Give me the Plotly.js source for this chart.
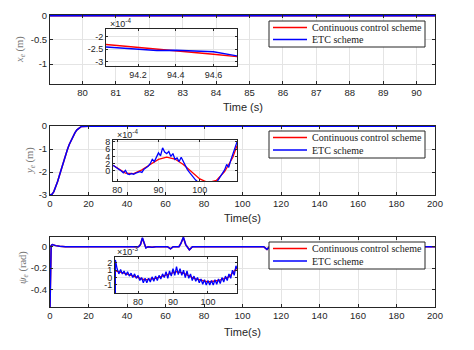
<!DOCTYPE html>
<html>
<head>
<meta charset="utf-8">
<script src="https://cdn.plot.ly/plotly-3.0.1.min.js"></script>
<style>html,body{margin:0;padding:0;background:#fff;}#chart{width:474px;height:350px;}</style>
</head>
<body>
<div id="chart"></div>
<script>
// ---------------- DATA ----------------
// Panel 1: x_e (m), main view
const tX = [79, 80, 82, 84, 86, 88, 90, 91];
const xContinuous = [-0.00021, -0.00022, -0.00023, -0.00024, -0.00025, -0.00026, -0.00026, -0.00027];
const xETC        = [-0.00022, -0.00023, -0.00024, -0.00025, -0.00025, -0.00026, -0.00027, -0.00027];
// Panel 1 inset (units of 1e-4 m)
const tXin = [94.03, 94.2, 94.3, 94.4, 94.5, 94.6, 94.725];
const xContIn = [-2.31, -2.42, -2.49, -2.56, -2.63, -2.70, -2.80];
const xETCIn  = [-2.41, -2.50, -2.55, -2.54, -2.56, -2.60, -2.77];

// Panel 2: y_e (m), main view
const tY = [0, 1, 2, 3, 4, 5, 6, 7, 8, 9, 10, 11, 12, 13, 14, 15, 16, 17, 18, 20, 30, 40, 50, 60, 66, 70, 72, 76, 80, 90, 100, 110, 120, 126, 128, 130, 140, 160, 180, 200];
const yContinuous = [-3, -2.97, -2.85, -2.65, -2.4, -2.12, -1.83, -1.55, -1.28, -1.03, -0.8, -0.6, -0.42, -0.28, -0.16, -0.08, -0.03, -0.01, 0, 0, 0, 0, 0, 0, 0, 0.01, 0, 0, 0, 0, 0, 0, 0, 0, 0.01, 0, 0, 0, 0, 0];
const yETC        = [-3, -2.97, -2.85, -2.65, -2.4, -2.12, -1.83, -1.55, -1.28, -1.03, -0.8, -0.6, -0.42, -0.28, -0.16, -0.08, -0.03, -0.01, 0, 0, 0, 0, 0, 0, 0, 0.02, 0, 0, 0, 0, 0, 0, 0, 0, 0.015, 0, 0, 0, 0, 0];
// Panel 2 inset (units of 1e-4 m)
const tYinC = [79, 80, 82, 84, 86, 88, 90, 92, 94, 96, 98, 100, 102, 104, 106, 107, 108, 109];
const yContIn = [1.6, 0.8, -0.6, -0.7, 0.3, 1.8, 3.2, 3.8, 3.3, 1.8, -0.3, -2.2, -3.2, -2.6, -0.2, 1.8, 3.8, 7.0];
const tYinE = [79, 79.5, 80, 80.5, 81, 81.5, 82, 82.5, 83, 83.5, 84, 84.5, 85, 85.5, 86, 86.5, 87, 87.5, 88, 88.5, 89, 89.5, 90, 90.5, 91, 91.5, 92, 92.5, 93, 93.5, 94, 94.5, 95, 95.5, 96, 96.5, 97, 97.5, 98, 98.5, 99, 99.5, 100, 102, 104, 104.5, 105, 105.5, 106, 106.5, 107, 107.5, 108, 108.5, 109];
const yETCIn = [1.6, 1.2, 0.8, 0.6, 0.0, -0.5, 0.2, -0.8, -1.0, -0.7, -0.9, -0.6, -0.5, -0.2, -0.4, 0.5, 0.9, 1.3, 2.0, 3.2, 2.6, 3.6, 5.0, 4.2, 6.4, 5.2, 4.8, 5.4, 4.0, 4.8, 3.2, 3.6, 2.6, 3.8, 2.5, 1.2, 0.4, -0.4, -1.2, -1.9, -2.5, -3.0, -3.3, -3.4, -3.2, -2.4, -1.5, -0.6, 0.3, 1.8, 1.0, 3.0, 4.6, 6.0, 8.0];

// Panel 3: psi_e (rad), main view
const tPsi = [0, 0.6, 1.2, 2, 3, 5, 8, 46, 47, 48, 49, 49.8, 51, 53, 55, 61, 62.6, 64, 67, 68, 69.3, 70.5, 72.4, 74, 111, 112.7, 114, 127, 128, 129, 200];
const psiContinuous = [-0.566, 0.01, 0.02, 0.015, 0.01, 0.004, 0, 0, 0.02, 0.08, 0.03, -0.01, 0, -0.005, 0, 0, -0.02, 0, 0, 0.03, 0.085, 0.02, -0.03, 0, 0, -0.025, 0, 0, 0.005, 0, 0];
const psiETC        = [-0.566, 0.01, 0.02, 0.015, 0.01, 0.004, 0, 0, 0.02, 0.085, 0.03, -0.012, 0, -0.005, 0, 0, -0.02, 0, 0, 0.03, 0.09, 0.02, -0.03, 0, 0, -0.025, 0, 0, 0.005, 0, 0];
// Panel 3 inset (units of 1e-3 rad)
const tPsiInC = [73.5, 76, 80, 82, 85, 88, 91, 93, 96, 100, 103, 106, 108.3];
const psiContIn = [0.9, 0.6, 0.0, -0.3, -0.1, 0.4, 0.8, 0.6, -0.1, -0.6, -0.4, 0.1, 1.3];
const tPsiInE = [73.5, 73.5, 74, 74.5, 75, 75.5, 76, 76.5, 77, 77.5, 78, 78.5, 79, 79.5, 80, 80.5, 81, 81.5, 82, 82.5, 83, 83.5, 84, 84.5, 85, 85.5, 86, 86.5, 87, 87.5, 88, 88.5, 89, 89.5, 90, 90.5, 91, 91.5, 92, 92.5, 93, 93.5, 94, 94.5, 95, 95.5, 96, 96.5, 97, 97.5, 98, 98.5, 99, 99.5, 100, 100.5, 101, 101.5, 102, 102.5, 103, 103.5, 104, 104.5, 105, 105.5, 106, 106.5, 107, 107.5, 108, 108.3];
const psiETCIn = [-2.5, 2.4, 1.2, 0.5, 1.1, 0.5, 0.9, 0.3, 0.8, 0.2, 0.6, 0.0, 0.5, -0.1, 0.3, -0.4, 0.0, -0.7, -0.1, -0.7, -0.1, -0.6, 0.1, -0.5, 0.2, -0.4, 0.3, -0.2, 0.5, 0.0, 0.8, -0.1, 0.9, 0.2, 1.2, 0.3, 1.5, 0.4, 1.2, 0.3, 1.0, 0.0, 0.9, -0.1, 0.5, -0.4, 0.2, -0.5, 0.0, -0.7, -0.2, -0.9, -0.3, -1.0, -0.4, -1.0, -0.4, -1.0, -0.3, -0.9, -0.2, -0.8, 0.0, -0.6, 0.2, -0.4, 0.5, -0.1, 1.0, 0.3, 1.6, 1.2];

// Tick values / labels
const x1Ticks = [80, 81, 82, 83, 84, 85, 86, 87, 88, 89, 90];
const x1Labels = ["80", "81", "82", "83", "84", "85", "86", "87", "88", "89", "90"];
const y1Ticks = [-1, -0.5, 0];
const y1Labels = ["-1", "-0.5", "0"];
const x23Ticks = [0, 20, 40, 60, 80, 100, 120, 140, 160, 180, 200];
const x23Labels = ["0", "20", "40", "60", "80", "100", "120", "140", "160", "180", "200"];
const y2Ticks = [-3, -2, -1, 0];
const y2Labels = ["-3", "-2", "-1", "0"];
const y3Ticks = [-0.4, -0.2, 0];
const y3Labels = ["-0.4", "-0.2", "0"];
const xIn1Ticks = [94.2, 94.4, 94.6];
const xIn1Labels = ["94.2", "94.4", "94.6"];
const yIn1Ticks = [-3, -2.5, -2];
const yIn1Labels = ["-3", "-2.5", "-2"];
const xIn23Ticks = [80, 90, 100];
const xIn23Labels = ["80", "90", "100"];
const yIn2Ticks = [0, 2, 4, 6, 8];
const yIn2Labels = ["0", "2", "4", "6", "8"];
const yIn3Ticks = [-1, 0, 1, 2];
const yIn3Labels = ["-1", "0", "1", "2"];

const seriesNames = ["Continuous control scheme", "ETC scheme"];

// ---------------- LAYOUT HELPERS ----------------
const W = 474, H = 350;
const px = p => p / W;
const py = p => 1 - p / H;
const RED = "#ff0000", BLUE = "#0000ff";
const AX = "#262626";

function axis(extra) {
  return Object.assign({
    showline: true, linecolor: AX, linewidth: 1, mirror: "ticks",
    ticks: "inside", ticklen: 3, tickcolor: AX, tickwidth: 1,
    showgrid: true, gridcolor: "#e4e4e4", gridwidth: 1, zeroline: false,
    tickfont: {family: "Liberation Sans, Arial, sans-serif", size: 9.5, color: AX},
    tickmode: "array", fixedrange: true
  }, extra);
}

function tr(x, y, color, xa, ya, w) {
  return {x: x, y: y, type: "scatter", mode: "lines", xaxis: xa, yaxis: ya,
          line: {color: color, width: w}, showlegend: false, hoverinfo: "skip"};
}

const traces = [
  tr(tX, xContinuous, RED, "x", "y", 1.5),
  tr(tX, xETC, BLUE, "x", "y", 1.5),
  tr(tY, yContinuous, RED, "x2", "y2", 1.5),
  tr(tY, yETC, BLUE, "x2", "y2", 1.5),
  tr(tPsi, psiContinuous, RED, "x3", "y3", 1.5),
  tr(tPsi, psiETC, BLUE, "x3", "y3", 1.5),
  tr(tXin, xContIn, RED, "x4", "y4", 1.3),
  tr(tXin, xETCIn, BLUE, "x4", "y4", 1.3),
  tr(tYinC, yContIn, RED, "x5", "y5", 1.3),
  tr(tYinE, yETCIn, BLUE, "x5", "y5", 1.3),
  tr(tPsiInC, psiContIn, RED, "x6", "y6", 1.3),
  tr(tPsiInE, psiETCIn, BLUE, "x6", "y6", 1.3)
];

const inFont = {family: "Liberation Sans, Arial, sans-serif", size: 9, color: AX};

const layout = {
  width: W, height: H,
  margin: {l: 0, r: 0, t: 0, b: 0},
  paper_bgcolor: "#ffffff", plot_bgcolor: "#ffffff",
  showlegend: false,
  xaxis: axis({domain: [px(50), px(435)], range: [79.03, 90.55], tickvals: x1Ticks, ticktext: x1Labels, anchor: "y"}),
  yaxis: axis({domain: [py(84), py(15)], range: [-1.41, 0.015], tickvals: y1Ticks, ticktext: y1Labels, anchor: "x"}),
  xaxis2: axis({domain: [px(50), px(435)], range: [0, 200], tickvals: x23Ticks, ticktext: x23Labels, anchor: "y2"}),
  yaxis2: axis({domain: [py(195), py(125.7)], range: [-3, 0.02], tickvals: y2Ticks, ticktext: y2Labels, anchor: "x2"}),
  xaxis3: axis({domain: [px(50), px(435)], range: [0, 200], tickvals: x23Ticks, ticktext: x23Labels, anchor: "y3"}),
  yaxis3: axis({domain: [py(307), py(237)], range: [-0.566, 0.091], tickvals: y3Ticks, ticktext: y3Labels, anchor: "x3"}),
  xaxis4: axis({domain: [px(106), px(237)], range: [94.03, 94.725], tickvals: xIn1Ticks, ticktext: xIn1Labels, anchor: "y4", tickfont: inFont, ticklen: 2}),
  yaxis4: axis({domain: [py(65.7), py(29.3)], range: [-3.16, -1.7], tickvals: yIn1Ticks, ticktext: yIn1Labels, anchor: "x4", tickfont: inFont, ticklen: 2}),
  xaxis5: axis({domain: [px(113), px(237)], range: [79, 109], tickvals: xIn23Ticks, ticktext: xIn23Labels, anchor: "y5", tickfont: inFont, ticklen: 2}),
  yaxis5: axis({domain: [py(181), py(140)], range: [-2.76, 8.55], tickvals: yIn2Ticks, ticktext: yIn2Labels, anchor: "x5", tickfont: inFont, ticklen: 2}),
  xaxis6: axis({domain: [px(115), px(237)], range: [73.4, 108.3], tickvals: xIn23Ticks, ticktext: xIn23Labels, anchor: "y6", tickfont: inFont, ticklen: 2}),
  yaxis6: axis({domain: [py(293), py(257)], range: [-2.1, 2.8], tickvals: yIn3Ticks, ticktext: yIn3Labels, anchor: "x6", tickfont: inFont, ticklen: 2}),
  shapes: [],
  annotations: []
};

// Axis titles as annotations (precise placement)
function ann(text, x, y, opts) {
  layout.annotations.push(Object.assign({
    text: text, xref: "paper", yref: "paper", x: px(x), y: py(y),
    showarrow: false, xanchor: "center", yanchor: "middle"
  }, opts));
}
const xtFont = {family: "Liberation Sans, Arial, sans-serif", size: 11, color: AX};
ann("Time (s)", 243, 107, {font: xtFont});
ann("Time(s)", 242, 218, {font: xtFont});
ann("Time(s)", 242, 331.5, {font: xtFont});
const ytFont = {family: "Liberation Serif, DejaVu Serif, serif", size: 10.5, color: "#7a7a7a"};
ann("<i>x</i><sub><i>e</i></sub> (m)", 21, 50, {font: ytFont, textangle: -90});
ann("<i>y</i><sub><i>e</i></sub> (m)", 30, 161, {font: ytFont, textangle: -90});
ann("<i>ψ</i><sub><i>e</i></sub> (rad)", 23, 268, {font: ytFont, textangle: -90});

// Inset exponent labels
const expFont = {family: "Liberation Sans, Arial, sans-serif", size: 9, color: AX};
ann("×10<sup>-4</sup>", 108, 23, {font: expFont, xanchor: "left"});
ann("×10<sup>-4</sup>", 115, 134, {font: expFont, xanchor: "left"});
ann("×10<sup>-3</sup>", 115, 251, {font: expFont, xanchor: "left"});

// Legends (boxes, line samples, serif text)
const legFont = {family: "Liberation Serif, DejaVu Serif, serif", size: 10, color: "#1a1a1a"};
function legend(top, bottom, row1, row2) {
  layout.shapes.push({type: "rect", xref: "paper", yref: "paper", x0: px(269), x1: px(425), y0: py(bottom), y1: py(top),
    line: {color: AX, width: 1}, fillcolor: "#ffffff", layer: "above"});
  layout.shapes.push({type: "line", xref: "paper", yref: "paper", x0: px(273), x1: px(307), y0: py(row1), y1: py(row1),
    line: {color: RED, width: 1.5}, layer: "above"});
  layout.shapes.push({type: "line", xref: "paper", yref: "paper", x0: px(273), x1: px(307), y0: py(row2), y1: py(row2),
    line: {color: BLUE, width: 1.5}, layer: "above"});
  ann(seriesNames[0], 310, row1, {font: legFont, xanchor: "left"});
  ann(seriesNames[1], 310, row2, {font: legFont, xanchor: "left"});
}
legend(21, 47, 27.5, 39.5);
legend(131, 158, 137.5, 150);
legend(242, 269, 248.5, 261);

Plotly.newPlot("chart", traces, layout, {staticPlot: true, displayModeBar: false});
</script>
</body>
</html>
